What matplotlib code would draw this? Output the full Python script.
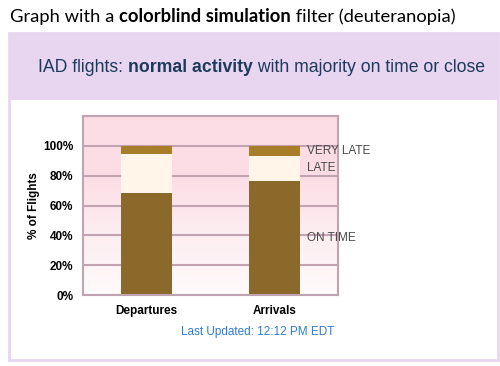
import matplotlib.pyplot as plt
import matplotlib.patches as mpatches
from matplotlib.colors import LinearSegmentedColormap
import numpy as np

categories = ['Departures', 'Arrivals']
on_time = [68.5, 76.5]
late = [26.0, 17.0]
very_late = [5.5, 6.5]
segment_names = ['ON TIME', 'LATE', 'VERY LATE']
yticks = [0, 20, 40, 60, 80, 100]

C_ON = '#8a692a'
C_LATE = '#fff5e8'
C_VLATE = '#a87e2b'
C_GRID = '#c2a3b2'
PURPLE = '#e8d6f1'

W, H = 500, 366
fig = plt.figure(figsize=(5, 3.66), dpi=100)
fig.patch.set_facecolor('white')


def px(x, y):
    # pixel coords (top-left origin) -> figure fraction
    return x / W, 1 - y / H


# outer panel + header band
fig.patches.append(mpatches.Rectangle(px(9, 360), 489 / W, 327 / H, transform=fig.transFigure,
                                      facecolor='white', edgecolor=PURPLE, lw=2, zorder=-2))
fig.patches.append(mpatches.Rectangle(px(9, 100), 489 / W, 67 / H, transform=fig.transFigure,
                                      facecolor=PURPLE, edgecolor='none', zorder=-1))

# chart axes
l, b = px(83, 295)
ax = fig.add_axes([l, b, (338 - 83) / W, (295 - 116) / H])
x = np.arange(len(categories))
ax.set_xlim(-0.5, 1.5)
ax.set_ylim(0, 120)

cmap = LinearSegmentedColormap.from_list('bg', ['#fffafb', '#fdeef2', '#fcdde6', '#fcdce5'])
grad = np.linspace(0, 1, 256).reshape(-1, 1)
ax.imshow(grad, extent=(-0.5, 1.5, 0, 120), origin='lower', aspect='auto', cmap=cmap, zorder=0)

for yv in yticks[1:]:
    ax.axhline(yv, color=C_GRID, lw=1.5, zorder=1)

bw = 0.4
ax.bar(x, on_time, bw, color=C_ON, zorder=2)
ax.bar(x, late, bw, bottom=on_time, color=C_LATE, zorder=2)
ax.bar(x, very_late, bw, bottom=np.add(on_time, late), color=C_VLATE, zorder=2)

# segment labels beside the arrivals bar, at segment midpoints
mids = [on_time[1] / 2, on_time[1] + late[1] / 2, on_time[1] + late[1] + very_late[1] / 2]
for name, m in zip(segment_names, mids):
    ax.text(1.255, m, name, fontsize=8.5, family='Liberation Sans', color='#4a4a4a',
            va='center', ha='left', clip_on=False, zorder=5)

for s in ax.spines.values():
    s.set_color(C_GRID)
    s.set_linewidth(1.5)

ax.set_yticks(yticks)
ax.set_yticklabels([f'{v}%' for v in yticks], fontsize=8.5, weight='bold', family='Liberation Sans')
ax.set_xticks(x)
ax.set_xticklabels(categories, fontsize=8.5, weight='bold', family='Liberation Sans')
ax.tick_params(length=0, pad=7)
ax.tick_params(axis='x', pad=7)
ax.set_ylabel('% of Flights', fontsize=8.5, weight='bold', family='Liberation Sans', labelpad=2)

# top caption with bold part
cap_kw = dict(family='Lato', fontsize=13.2)
t1 = fig.text(*px(10, 17), 'Graph with a ', va='center', ha='left', **cap_kw)
t2 = ax.annotate('colorblind simulation', xy=(1, 0), xycoords=t1, va='bottom', ha='left',
                 weight='bold', **cap_kw)
ax.annotate(' filter (deuteranopia)', xy=(1, 0), xycoords=t2, va='bottom', ha='left', **cap_kw)

# header title
navy = '#1d3a5c'
hd_kw = dict(family='Liberation Sans', fontsize=12.7, color=navy)
h1 = fig.text(*px(38, 67), 'IAD flights: ', va='center', ha='left', **hd_kw)
h2 = ax.annotate('normal activity', xy=(1, 0), xycoords=h1, va='bottom', ha='left',
                 weight='bold', **hd_kw)
ax.annotate(' with majority on time or close', xy=(1, 0), xycoords=h2, va='bottom', ha='left',
            **hd_kw)

fig.text(*px(258, 332), 'Last Updated: 12:12 PM EDT', fontsize=8.5, family='Liberation Sans',
         color='#2f7bd1', ha='center', va='center')

fig.savefig('out.png', dpi=100)
